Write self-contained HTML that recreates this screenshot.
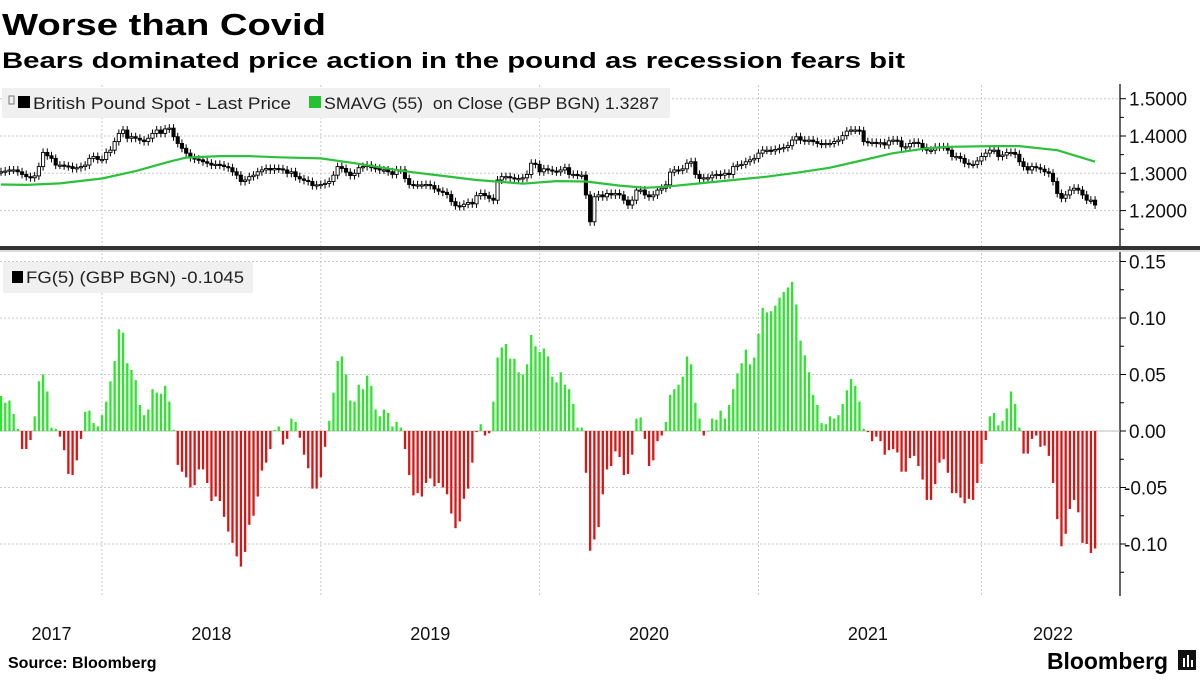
<!DOCTYPE html>
<html><head><meta charset="utf-8"><style>
html,body{margin:0;padding:0;background:#fff;}
body{width:1200px;height:675px;overflow:hidden;font-family:"Liberation Sans",sans-serif;}
</style></head><body>
<svg id="chart" width="1200" height="675" viewBox="0 0 1200 675" xmlns="http://www.w3.org/2000/svg" font-family="Liberation Sans, sans-serif">
<text x="2" y="35" font-size="31" font-weight="bold" textLength="324" lengthAdjust="spacingAndGlyphs">Worse than Covid</text>
<text x="2" y="68" font-size="22" font-weight="bold" textLength="903" lengthAdjust="spacingAndGlyphs">Bears dominated price action in the pound as recession fears bit</text>
<g id="grid"></g>
<g id="topPanel"></g>
<g id="bottomPanel"></g>
<rect x="0" y="246" width="1200" height="4" fill="#333"/>
<line x1="0" y1="251" x2="1200" y2="251" stroke="#bbb" stroke-width="1"/>
<rect x="2" y="88" width="668" height="30" fill="#f0f0f0"/>
<rect x="9" y="96" width="5" height="8" fill="none" stroke="#777" stroke-width="1"/>
<rect x="18" y="96" width="12" height="12" fill="#000"/>
<text x="33" y="109" font-size="17" fill="#222" textLength="258" lengthAdjust="spacingAndGlyphs">British Pound Spot - Last Price</text>
<rect x="309" y="96" width="12" height="12" fill="#22c232"/>
<text x="324" y="109" font-size="17" fill="#222" xml:space="preserve" textLength="335" lengthAdjust="spacingAndGlyphs">SMAVG (55)  on Close (GBP BGN) 1.3287</text>
<rect x="3" y="262" width="250" height="31" fill="#f0f0f0"/>
<rect x="12" y="271" width="11" height="12" fill="#000"/>
<text x="26" y="283" font-size="17" fill="#222" textLength="218" lengthAdjust="spacingAndGlyphs">FG(5) (GBP BGN) -0.1045</text>
<g id="xlabels"></g>
<text x="8" y="668" font-size="16" font-weight="bold">Source: Bloomberg</text>
<text x="1047" y="669" font-size="23" font-weight="bold" textLength="121" lengthAdjust="spacingAndGlyphs">Bloomberg</text>
<rect x="1178" y="650" width="18" height="20" fill="#111"/>
<rect x="1183" y="658" width="2" height="9" fill="#fff"/><rect x="1187" y="655" width="2" height="12" fill="#fff"/><rect x="1191" y="660" width="2" height="7" fill="#fff"/>
</svg>
<script>
const closeA=[1.304,1.306,1.309,1.309,1.304,1.297,1.291,1.288,1.293,1.318,1.356,1.347,1.340,1.322,1.322,1.320,1.318,1.313,1.315,1.318,1.322,1.340,1.345,1.337,1.337,1.356,1.362,1.385,1.407,1.416,1.394,1.398,1.394,1.389,1.385,1.394,1.407,1.416,1.407,1.419,1.421,1.398,1.380,1.367,1.354,1.342,1.338,1.336,1.331,1.327,1.322,1.324,1.322,1.318,1.315,1.304,1.295,1.278,1.282,1.291,1.295,1.304,1.309,1.313,1.309,1.313,1.312];
const closeB=[1.309,1.300,1.304,1.291,1.285,1.281,1.278,1.267,1.269,1.270,1.273,1.278,1.295,1.318,1.313,1.303,1.294,1.300,1.315,1.318,1.322,1.315,1.313,1.309,1.309,1.304,1.297,1.309,1.309,1.286,1.270,1.269,1.269,1.269,1.270,1.267,1.258,1.252,1.249,1.243,1.224,1.213,1.211,1.217,1.222,1.218,1.240,1.246,1.240,1.233,1.228,1.282,1.291,1.291,1.288,1.285,1.286,1.288,1.297,1.327,1.324,1.304,1.312,1.309,1.306];
const closeC=[1.304,1.309,1.315,1.297,1.297,1.295,1.295,1.242,1.170,1.237,1.242,1.237,1.246,1.242,1.246,1.242,1.228,1.215,1.228,1.255,1.255,1.242,1.237,1.242,1.255,1.260,1.269,1.303,1.309,1.308,1.312,1.327,1.331,1.297,1.286,1.288,1.288,1.295,1.297,1.295,1.300,1.297,1.318,1.322,1.324,1.331,1.336,1.340,1.354,1.362,1.362,1.360,1.364,1.367,1.369,1.374,1.389,1.398,1.389,1.387,1.389,1.385,1.380,1.378,1.380,1.380];
const closeD=[1.385,1.389,1.401,1.413,1.416,1.416,1.414,1.385,1.383,1.383,1.380,1.382,1.376,1.387,1.389,1.387,1.371,1.371,1.380,1.383,1.380,1.369,1.362,1.362,1.370,1.371,1.371,1.362,1.345,1.345,1.340,1.327,1.324,1.324,1.333,1.345,1.354,1.362,1.362,1.345,1.349,1.356,1.356,1.351,1.331,1.318,1.309,1.318,1.315,1.311,1.304,1.300,1.278,1.246,1.233,1.242,1.255,1.260,1.255,1.242,1.228,1.228,1.215];
const smaWeeks=[0,6,14,24,32,40,44,52,59,66,76,84,89,97,105,113,121,124,132,139,147,153,158,166,174,182,190,197,204,212,220,225,236,242,251,260];
const smaValues=[1.270,1.269,1.273,1.286,1.306,1.331,1.342,1.346,1.346,1.343,1.340,1.327,1.318,1.304,1.293,1.282,1.275,1.272,1.279,1.278,1.267,1.261,1.264,1.273,1.282,1.291,1.303,1.315,1.333,1.354,1.367,1.371,1.373,1.373,1.362,1.331];
const fgA=[.031,.025,.027,.015,.002,-.016,-.016,-.008,.013,.044,.050,.035,.003,.002,-.005,-.017,-.038,-.039,-.026,-.007,.017,.018,.007,.004,.014,.026,.044,.062,.090,.087,.060,.054,.045,.023,.014,.019,.037,.034,.033,.040,.026,.001,-.030,-.036,-.041,-.050,-.048,-.034,-.034,-.046,-.062,-.058,-.062,-.076,-.089,-.099,-.111,-.120,-.107,-.083,-.075,-.058,-.035,-.028,-.016,.001,.004];
const fgB=[-.012,-.007,.011,.008,-.006,-.021,-.033,-.051,-.051,-.041,-.014,.009,.034,.062,.066,.050,.027,.026,.041,.037,.049,.040,.019,.013,.019,.016,.004,.008,.003,-.016,-.039,-.057,-.055,-.058,-.046,-.042,-.049,-.046,-.050,-.056,-.073,-.086,-.080,-.060,-.051,-.028,-.001,.006,-.004,-.002,.026,.065,.074,.077,.064,.064,.052,.050,.059,.085,.075,.070,.073,.066,.048];
const fgC=[.043,.052,.041,.037,.024,.003,.003,-.037,-.106,-.096,-.085,-.056,-.034,-.031,-.018,-.023,-.039,-.038,-.021,.011,.012,-.007,-.031,-.026,-.009,-.004,.008,.032,.037,.041,.048,.066,.059,.025,.011,-.004,0,.011,.010,.018,.011,.023,.037,.051,.060,.072,.059,.065,.086,.109,.105,.106,.111,.118,.123,.127,.132,.112,.080,.067,.052,.032,.023,.007,.006,.013];
const fgD=[.011,.014,.024,.036,.046,.040,.026,.002,-.001,-.009,-.005,-.009,-.021,-.017,-.016,-.019,-.036,-.036,-.024,-.022,-.031,-.043,-.061,-.061,-.047,-.028,-.025,-.037,-.055,-.055,-.059,-.064,-.060,-.061,-.046,-.029,-.008,.013,.016,.005,.009,.020,.035,.024,.003,-.020,-.020,-.007,-.004,-.014,-.013,-.022,-.046,-.078,-.102,-.091,-.069,-.061,-.072,-.099,-.100,-.108,-.104];
const priceTicks=[1.5,1.4,1.3,1.2];
const fgTicks=[0.15,0.10,0.05,0.00,-0.05,-0.10];
const yearLabels=["2017","2018","2019","2020","2021","2022"];
const yearLabelWeeks=[12,50,102,154,206,250];
const yearGridWeeks=[24,76,128,180,233];

const closes=closeA.concat(closeB,closeC,closeD);
const fg=fgA.concat(fgB,fgC,fgD);
const NS="http://www.w3.org/2000/svg";
const xW=i=>1+i*4.208;
const yP=p=>136+(1.4-p)*373;
const yF=v=>431-v*1130;
function mk(tag,attrs,parent){const e=document.createElementNS(NS,tag);for(const k in attrs)e.setAttribute(k,attrs[k]);parent.appendChild(e);return e;}
const grid=document.getElementById('grid'),topG=document.getElementById('topPanel'),botG=document.getElementById('bottomPanel'),xl=document.getElementById('xlabels');
priceTicks.forEach(t=>{
  const l=mk('line',{x1:0,x2:1120,y1:yP(t),y2:yP(t),stroke:'#c8c8c8','stroke-dasharray':'2,2'},grid);
  
  
  mk('line',{x1:1120,x2:1126,y1:yP(t),y2:yP(t),stroke:'#000'},grid);
  const tx=mk('text',{x:1129,y:yP(t)+7,'font-size':19,fill:'#111'},grid);
  tx.textContent=t.toFixed(4);
  
  
});
[1.45,1.35,1.25,1.15].forEach(t=>mk('line',{x1:1120,x2:1124,y1:yP(t),y2:yP(t),stroke:'#000'},grid));
fgTicks.forEach(t=>{
  if(t!==0){const l=mk('line',{x1:0,x2:1120,y1:yF(t),y2:yF(t),stroke:'#c8c8c8','stroke-dasharray':'2,2'},grid);
  
  }
  mk('line',{x1:1120,x2:1126,y1:yF(t),y2:yF(t),stroke:'#000'},grid);
  const tx=mk('text',{x:t<0?1124:1129,y:yF(t)+7,'font-size':19,fill:'#111'},grid);
  tx.textContent=t.toFixed(2);
  
  
});
[0.125,0.075,0.025,-0.025,-0.075,-0.125].forEach(t=>mk('line',{x1:1120,x2:1124,y1:yF(t),y2:yF(t),stroke:'#000'},grid));
yearGridWeeks.forEach(w=>{
  const l=mk('line',{x1:xW(w),x2:xW(w),y1:85,y2:596,stroke:'#c8c8c8','stroke-dasharray':'2,2'},grid);
  
  
});
mk('line',{x1:1120,x2:1120,y1:84,y2:246,stroke:'#000','stroke-width':1.2},grid);
mk('line',{x1:1120,x2:1120,y1:252,y2:596,stroke:'#000','stroke-width':1.2},grid);
mk('line',{x1:0,x2:1120,y1:yF(0),y2:yF(0),stroke:'#bbb'},grid);
yearLabels.forEach((s,i)=>{
  const tx=mk('text',{x:xW(yearLabelWeeks[i]),y:640,'font-size':18,'text-anchor':'middle',fill:'#111'},xl);
  tx.textContent=s;
  
  
});
closes.forEach((c,i)=>{
  const o=i?closes[i-1]:c;const x=xW(i);
  const y1=yP(Math.max(o,c)),y2=yP(Math.min(o,c));
  const w=mk('line',{x1:x,x2:x,y1:y1-4,y2:y2+4,stroke:'#000','stroke-width':1},topG);
  
  
  const r=mk('rect',{x:x-1.6,y:y1,width:3.2,height:Math.max(1.2,y2-y1),fill:c<o?'#000':'#fff',stroke:'#000','stroke-width':0.9},topG);
  
  
});
const pts=smaWeeks.map((w,i)=>xW(w).toFixed(1)+','+yP(smaValues[i]).toFixed(1)).join(' ');
const sl=mk('polyline',{points:pts,fill:'none',stroke:'#2cc13a','stroke-width':2.2,'stroke-linejoin':'round'},topG);


fg.forEach((v,i)=>{
  const x=xW(i);const y0=yF(0),y=yF(v);
  const r=mk('rect',{x:x-1.1,y:Math.min(y0,y),width:2.3,height:Math.max(0.6,Math.abs(y-y0)),fill:v>=0?'#2ee52e':'#dd1414'},botG);
  
  
});
</script>
</body></html>
